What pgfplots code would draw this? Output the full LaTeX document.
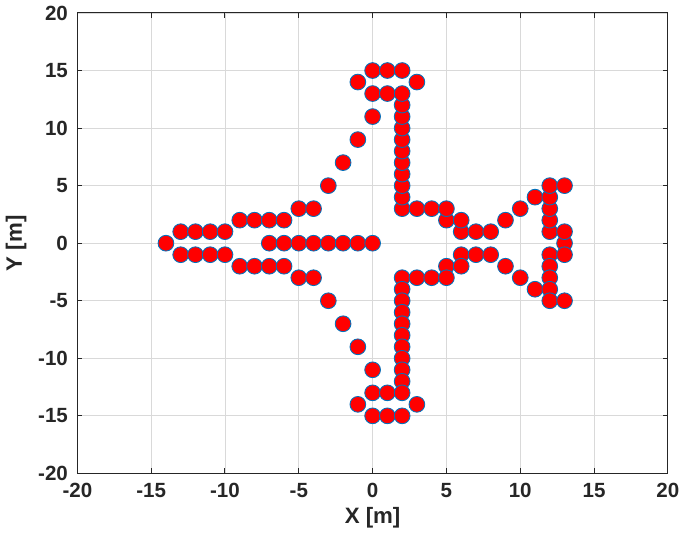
\documentclass[border=0pt]{standalone}
\usepackage{fontspec}
\setmainfont{Liberation Sans}
\usepackage{pgfplots}
\pgfplotsset{compat=1.18}
\definecolor{medge}{rgb}{0,0.447,0.741}
\definecolor{gridc}{rgb}{0.85,0.85,0.85}
\definecolor{axc}{rgb}{0.15,0.15,0.15}
\begin{document}
\begin{tikzpicture}
\begin{axis}[
  scale only axis,
  width=345pt, height=269pt,
  xmin=-20, xmax=20, ymin=-20, ymax=20,
  xtick={-20,-15,...,20}, ytick={-20,-15,...,20},
  grid=major,
  major grid style={gridc, line width=0.5pt},
  axis line style={axc, line width=0.6pt},
  tick style={axc, line width=0.6pt},
  tick align=inside,
  major tick length=3pt,
  /pgf/number format/assume math mode=true,
  ticklabel style={font=\bfseries\fontsize{12}{14}\selectfont, text=axc},
  xticklabel style={yshift=-2pt},
  yticklabel style={xshift=-2pt},
  label style={font=\bfseries\fontsize{13}{15}\selectfont, text=axc},
  xlabel={X [m]}, ylabel={Y [m]},
  xlabel style={yshift=1pt},
  ylabel style={yshift=0pt},
]
\addplot[only marks, mark=*, mark size=4.6pt, mark options={fill=red, draw=medge, line width=0.5pt}]
coordinates {
(-14,0) (-7,0) (-6,0) (-5,0) (-4,0) (-3,0) (-2,0) (-1,0) (0,0) (13,0)
(-13,1) (-12,1) (-11,1) (-10,1) (6,1) (7,1) (8,1) (12,1) (13,1)
(-13,-1) (-12,-1) (-11,-1) (-10,-1) (6,-1) (7,-1) (8,-1) (12,-1) (13,-1)
(-9,2) (-8,2) (-7,2) (-6,2) (5,2) (6,2) (9,2) (12,2)
(-9,-2) (-8,-2) (-7,-2) (-6,-2) (5,-2) (6,-2) (9,-2) (12,-2)
(-5,3) (-4,3) (2,3) (3,3) (4,3) (5,3) (10,3) (12,3)
(-5,-3) (-4,-3) (2,-3) (3,-3) (4,-3) (5,-3) (10,-3) (12,-3)
(2,4) (11,4) (12,4)
(2,-4) (11,-4) (12,-4)
(-3,5) (2,5) (12,5) (13,5)
(-3,-5) (2,-5) (12,-5) (13,-5)
(2,6) (2,-6)
(-2,7) (2,7) (-2,-7) (2,-7)
(2,8) (2,-8)
(-1,9) (2,9) (-1,-9) (2,-9)
(2,10) (2,-10)
(0,11) (2,11) (0,-11) (2,-11)
(2,12) (2,-12)
(0,13) (1,13) (2,13) (0,-13) (1,-13) (2,-13)
(-1,14) (3,14) (-1,-14) (3,-14)
(0,15) (1,15) (2,15) (0,-15) (1,-15) (2,-15)
};
\end{axis}
\end{tikzpicture}
\end{document}
